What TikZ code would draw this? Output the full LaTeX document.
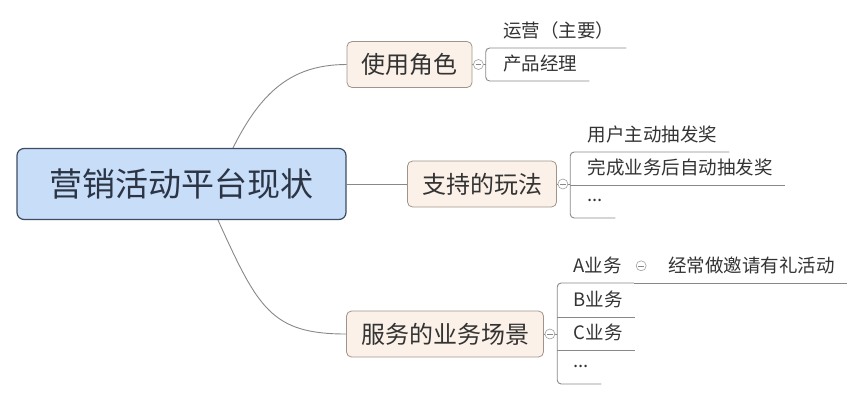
\documentclass[tikz,border=0pt]{standalone}
\usepackage{fontspec}
\setmainfont{Noto Sans CJK SC}
\usepackage{tikz}
\pgfdeclarelayer{bg}
\pgfsetlayers{bg,main}
\definecolor{rootfill}{RGB}{200,221,248}
\definecolor{rootdraw}{RGB}{62,76,98}
\definecolor{topicfill}{RGB}{251,241,232}
\definecolor{topicdraw}{RGB}{160,148,138}
\definecolor{linecol}{RGB}{136,136,136}
\definecolor{txt}{RGB}{51,51,51}
\tikzset{
    root/.style={rectangle, rounded corners=7pt, draw=rootdraw, line width=1.2pt, fill=rootfill, text=rootdraw!70!black, minimum width=329pt, minimum height=71pt, inner sep=0pt, font=\fontsize{33}{38}\selectfont},
    topic/.style={rectangle, rounded corners=5pt, draw=topicdraw, line width=0.8pt, fill=topicfill, text=txt, minimum height=46pt, inner xsep=14.5pt, inner ysep=0pt, font=\fontsize{24}{28}\selectfont},
    leaf/.style={anchor=south west, minimum height=34pt, inner xsep=12pt, inner ysep=0pt, text=txt, font=\fontsize{18.5}{22}\selectfont},
    fold/.style={circle, draw=linecol!80, fill=white, line width=0.6pt, minimum size=10pt, inner sep=0pt, path picture={\draw[linecol, line width=0.6pt] ([xshift=2.2pt]path picture bounding box.west) -- ([xshift=-2.2pt]path picture bounding box.east);}},
    link/.style={draw=linecol, line width=0.9pt},
    twig/.style={draw=linecol, line width=0.9pt, rounded corners=4pt}
}
\begin{document}
\begin{tikzpicture}[x=1pt, y=-1pt]
        \useasboundingbox (0,0) rectangle (864,400);
        \node[root] (r) at (181.5,184) {营销活动平台现状};
        \node[topic] (b1) at (409.5,64.5) {使用角色};
        \node[topic] (b2) at (482,184) {支持的玩法};
        \node[topic] (b3) at (445,334) {服务的业务场景};
        \node[fold] (f1) at ([xshift=6pt]b1.east) {};
        \node[fold] (f2) at ([xshift=6pt]b2.east) {};
        \node[fold] (f3) at ([xshift=6pt]b3.east) {};
        \coordinate (k1) at ([xshift=2pt]f1.east);
        \coordinate (k2) at ([xshift=2pt]f2.east);
        \coordinate (k3) at ([xshift=2pt]f3.east);
        \node[leaf] (l11) at (491,48) {运营（主要）};
        \node[leaf] (l12) at (491,81) {产品经理};
        \node[leaf] (l21) at (575.5,152) {用户主动抽发奖};
        \node[leaf] (l22) at (575.5,185) {完成业务后自动抽发奖};
        \node[leaf] (l23) at (575.5,218) {...};
        \node[leaf] (l31) at (561.5,283) {A业务};
        \node[leaf] (l32) at (561.5,317) {B业务};
        \node[leaf] (l33) at (561.5,350) {C业务};
        \node[leaf] (l34) at (561.5,384) {...};
        \node[fold] (f31) at ([xshift=7pt]l31.east) {};
        \node[leaf] (l311) at (656,283) {经常做邀请有礼活动};
        \begin{pgfonlayer}{bg}
                \draw[link] ([xshift=51.5pt]r.north) .. controls +(28,-56) and +(-55,0) .. (b1.west);
                \draw[link] (r) -- (b2);
                \draw[link] ([xshift=36.5pt]r.south) .. controls +(40,88) and +(-75,0) .. (b3.west);
                \draw[link] (b1) -- (k1);
                \draw[link] (b2) -- (k2);
                \draw[link] (b3) -- (k3);
                \draw[twig] (l11.south east) -- (l11.south west -| k1) -- (l12.south west -| k1) -- (l12.south east);
                \draw[twig] (l21.south east) -- (l21.south west -| k2) -- (l23.south west -| k2) -- (l23.south east);
                \draw[link] (l22.south west -| k2) -- (l22.south east);
                \draw[twig] (l31.south east) -- (l31.south west -| k3) -- (l34.south west -| k3) -- (l34.south east);
                \draw[link] (l32.south west -| k3) -- (l32.south east);
                \draw[link] (l33.south west -| k3) -- (l33.south east);
                \draw[link] (l31.south east) -- (l311.south east);
        \end{pgfonlayer}
\end{tikzpicture}
\end{document}
